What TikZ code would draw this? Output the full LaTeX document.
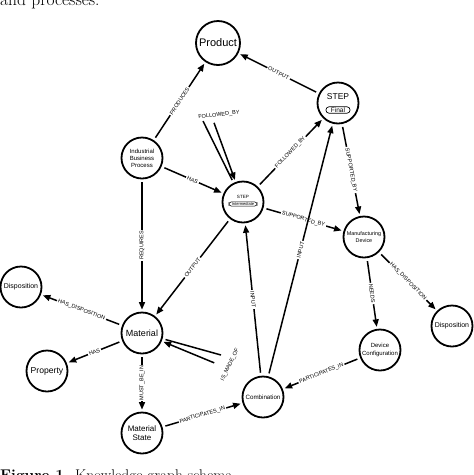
\documentclass[tikz,border=0pt]{standalone}
\usepackage{fontspec}
\setsansfont{Liberation Sans}
\renewcommand{\familydefault}{\sfdefault}
\usetikzlibrary{arrows.meta}
\tikzset{
ent/.style={circle,draw,line width=1.8pt,minimum size=41pt,inner sep=0pt,align=center},
rel/.style={line width=1.5pt,-{Triangle[length=7.5pt,width=6pt]},shorten <=3pt,shorten >=2pt},
lab/.style={fill=white,inner sep=1.2pt,font=\fontsize{5.5}{6}\selectfont},
pill/.style={draw,line width=0.7pt,rounded corners=3pt,inner ysep=0.8pt}
}
\newcommand{\ent}[6]{
\node[ent,font=\fontsize{#4}{#5}\selectfont] (#1) at (#2,#3) {#6};
}

\begin{document}
\begin{tikzpicture}[x=1pt,y=-1pt]
\clip (0,0) rectangle (474,475);

% text of the page round the figure
\node[font=\rmfamily\fontsize{17.5}{20}\selectfont,anchor=base west,inner sep=0pt] (pagetxt) at (0,5.5) {and processes.};
\node[font=\rmfamily\fontsize{15.5}{18}\selectfont,anchor=base west,inner sep=0pt] (figcap) at (0,480.5) {\textbf{Figure 1.} Knowledge graph schema};

\node[ent,minimum size=44pt,font=\fontsize{11}{12}\selectfont] (prod) at (218,43) {Product};
\ent{fin}{338}{103}{8}{9}{}
\ent{ibp}{142}{158}{6}{7}{Industrial\\Business\\Process}
\ent{sint}{243}{202}{5}{6}{}
\ent{md}{364}{237}{5.4}{7}{Manufacturing\\Device}
\ent{dispL}{21}{287}{7}{8}{Disposition}
\ent{mat}{142}{333}{9}{10}{Material}
\ent{prop}{47}{371}{8.6}{10}{Property}
\ent{comb}{263}{397}{6.2}{7}{Combination}
\ent{dc}{380}{350}{6}{7.5}{Device\\Configuration}
\ent{dispR}{452}{326}{7}{8}{Disposition}
\ent{mst}{142}{433}{8}{9.5}{Material\\State}

% step nodes
\node[inner sep=0pt,font=\fontsize{8.5}{9}\selectfont] (finlbl) at (338,97) {STEP};
\node[pill,inner xsep=5pt,font=\fontsize{6.5}{7}\selectfont] (finpill) at (338,110) {Final};
\node[inner sep=0pt,font=\fontsize{4.6}{5}\selectfont] (sintlbl) at (243,197) {STEP};
\node[pill,inner xsep=3pt,inner ysep=0.6pt,rounded corners=2.5pt,line width=0.6pt,font=\fontsize{4}{4.5}\selectfont] (sintpill) at (243,204) {Intermediate};

\draw[rel] (ibp) -- node[lab,sloped] {PRODUCES} (prod);
\draw[rel] (fin) -- node[lab,sloped] {OUTPUT} (prod);
\draw[rel] (ibp) -- node[lab,sloped] {HAS} (sint);
\draw[rel] (ibp) -- node[lab,rotate=90] {REQUIRES} (mat);
\draw[rel] (sint) -- node[lab,sloped] {FOLLOWED\_BY} (fin);
\draw[rel] (sint) -- node[lab,sloped] {SUPPORTED\_BY} (md);
\draw[rel] (fin) -- node[lab,sloped] {SUPPORTED\_BY} (md);
\draw[rel] (sint) -- node[lab,sloped] {OUTPUT} (mat);
\draw[rel] (comb) -- node[lab,sloped] {INPUT} (sint);
\draw[rel] (comb) -- node[lab,sloped] {INPUT} (fin);
\draw[rel] (md) -- node[lab,sloped] {HAS\_DISPOSITION} (dispR);
\draw[rel] (md) -- node[lab,sloped] {NEEDS} (dc);
\draw[rel] (dc) -- node[lab,sloped] {PARTICIPATES\_IN} (comb);
\draw[rel] (mat) -- node[lab,sloped] {HAS\_DISPOSITION} (dispL);
\draw[rel] (mat) -- node[lab,sloped] {HAS} (prop);
\draw[rel] (mat) -- node[lab,rotate=90] {MUST\_BE\_IN} (mst);
\draw[rel] (mst) -- node[lab,sloped] {PARTICIPATES\_IN} (comb);

% loops
\coordinate (fbA) at (203,121);
\coordinate (fbB) at (213,120);
\draw[line width=1.5pt,shorten <=3pt] (sint) -- (fbA);
\draw[rel] (fbB) -- (sint);
\node[lab,rotate=6] (fbl) at (219,115) {FOLLOWED\_BY};

\coordinate (imA) at (221,355);
\coordinate (imB) at (217,364);
\draw[line width=1.5pt,shorten <=3pt] (mat) -- (imA);
\draw[rel] (imB) -- (mat);
\node[lab,rotate=64] (iml) at (230,365) {IS\_MADE\_OF};

\end{tikzpicture}
\end{document}
